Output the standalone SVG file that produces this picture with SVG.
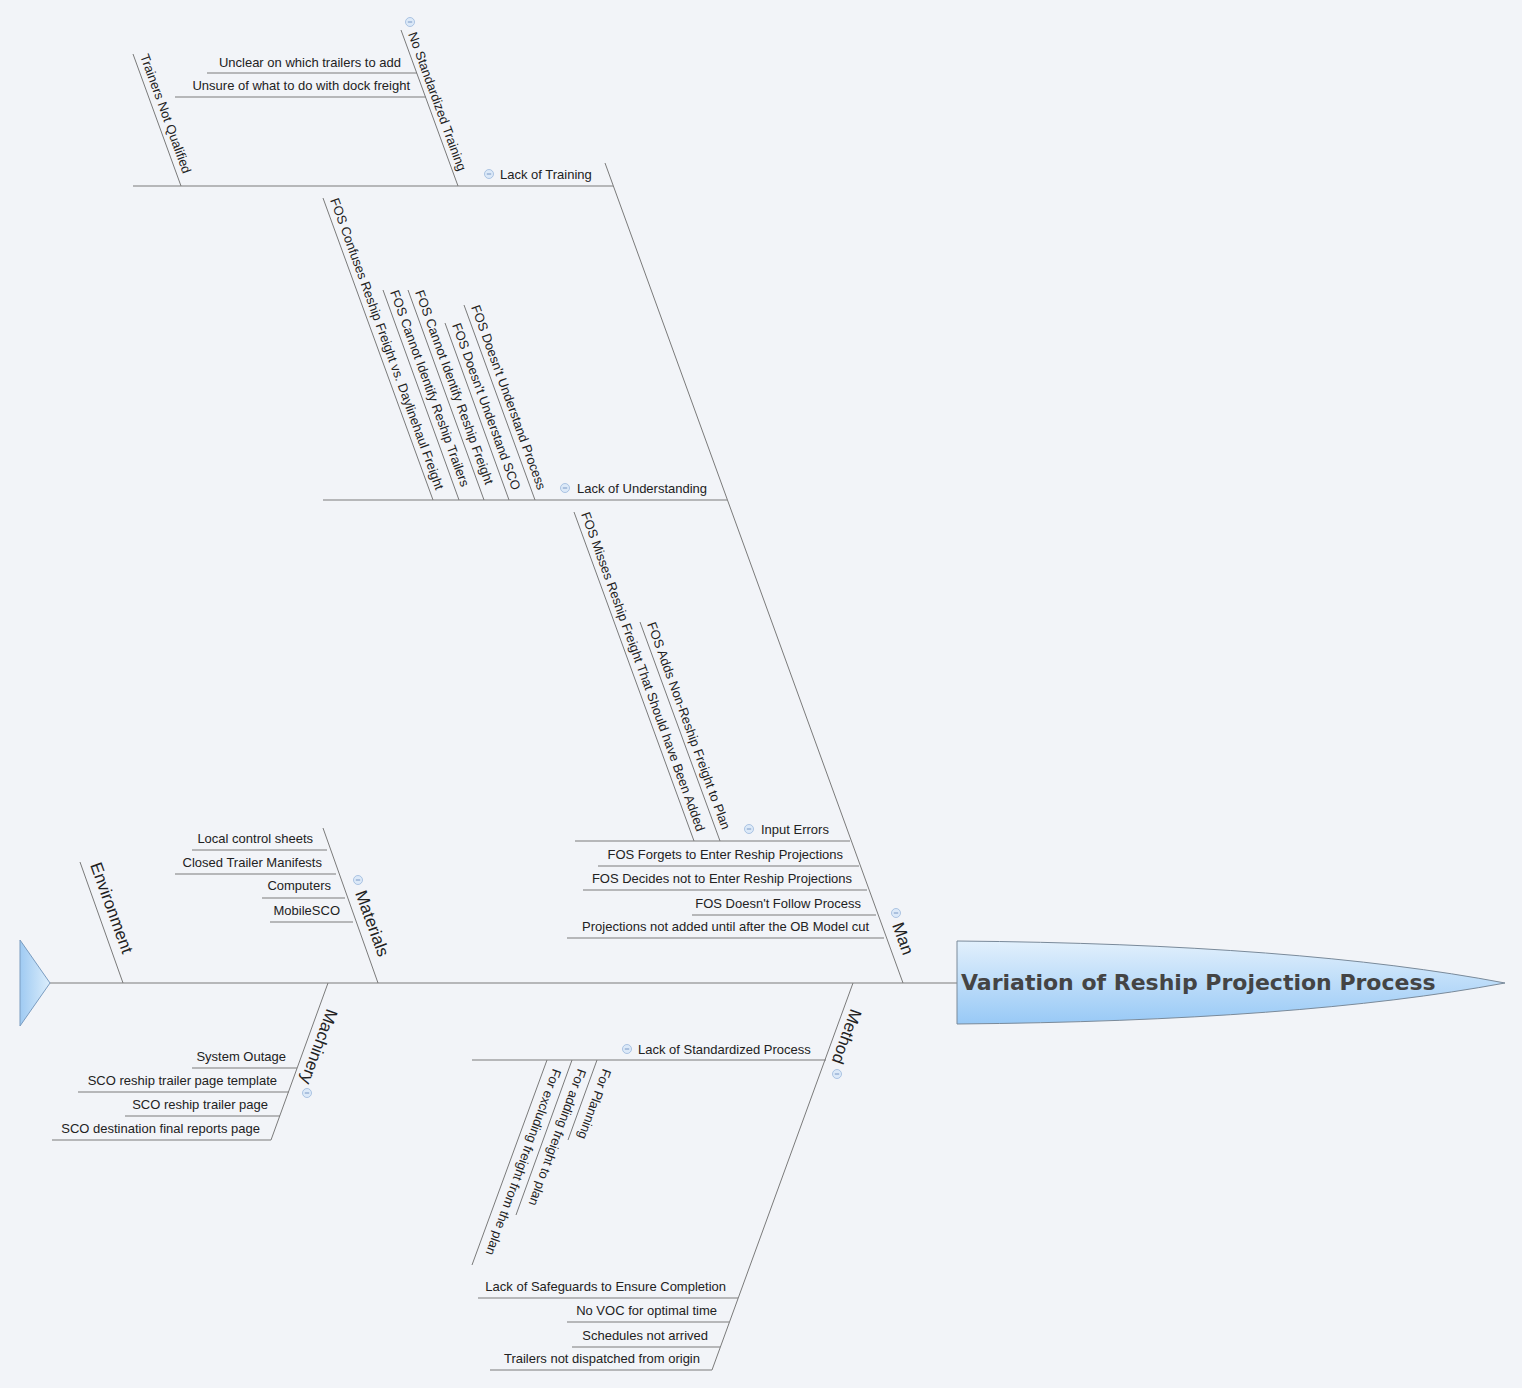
<svg xmlns="http://www.w3.org/2000/svg" width="1522" height="1388" viewBox="0 0 1522 1388">
<defs>
<linearGradient id="hg" x1="0" y1="0" x2="0" y2="1"><stop offset="0" stop-color="#e2f0fc"/><stop offset="1" stop-color="#98c9f6"/></linearGradient>
<linearGradient id="tg" x1="0" y1="0" x2="1" y2="0"><stop offset="0" stop-color="#9fcaf2"/><stop offset="1" stop-color="#dceefc"/></linearGradient>
<g id="cc"><circle r="4.5" fill="#dce9f8" stroke="#9ab8dc" stroke-width="0.8"/><line x1="-2.2" y1="0" x2="2.2" y2="0" stroke="#6d8fbf" stroke-width="0.9"/></g>
</defs>
<style>
text{font-family:"Liberation Sans",Arial,sans-serif;fill:#222;font-size:13px}
.big{font-size:17px}
.e{text-anchor:end}
.l{stroke:#7a7a7a;stroke-width:1;fill:none}
</style>
<rect width="1522" height="1388" fill="#f2f4f8"/>
<g id="connectors" class="l">
<line x1="50" y1="983" x2="957" y2="983"/>
<line x1="903" y1="983" x2="605" y2="163"/>
<line x1="133" y1="186" x2="613" y2="186"/>
<line x1="458" y1="186" x2="401" y2="30"/>
<line x1="181" y1="186" x2="133" y2="54"/>
<line x1="207" y1="73" x2="417" y2="73"/>
<line x1="175" y1="97" x2="426" y2="97"/>
<line x1="323" y1="500" x2="727" y2="500"/>
<line x1="433" y1="500" x2="323" y2="198"/>
<line x1="459" y1="500" x2="383" y2="290"/>
<line x1="484" y1="500" x2="408" y2="290"/>
<line x1="509" y1="500" x2="445" y2="323"/>
<line x1="535" y1="500" x2="464" y2="305"/>
<line x1="575" y1="841" x2="850" y2="841"/>
<line x1="694" y1="841" x2="574" y2="512"/>
<line x1="720" y1="841" x2="640" y2="622"/>
<line x1="598" y1="866" x2="859" y2="866"/>
<line x1="583" y1="890" x2="867" y2="890"/>
<line x1="692" y1="915" x2="876" y2="915"/>
<line x1="567" y1="938" x2="884" y2="938"/>
<line x1="853" y1="983" x2="712" y2="1370"/>
<line x1="472" y1="1060" x2="826" y2="1060"/>
<line x1="597" y1="1060" x2="568" y2="1140"/>
<line x1="572" y1="1060" x2="516" y2="1215"/>
<line x1="547" y1="1060" x2="472" y2="1265"/>
<line x1="478" y1="1298" x2="738" y2="1298"/>
<line x1="567" y1="1322" x2="729" y2="1322"/>
<line x1="572" y1="1347" x2="720" y2="1347"/>
<line x1="490" y1="1370" x2="712" y2="1370"/>
<line x1="378" y1="983" x2="323" y2="828"/>
<line x1="192" y1="850" x2="327" y2="850"/>
<line x1="175" y1="874" x2="336" y2="874"/>
<line x1="262" y1="898" x2="345" y2="898"/>
<line x1="270" y1="922" x2="353" y2="922"/>
<line x1="123" y1="983" x2="80" y2="862"/>
<line x1="328" y1="983" x2="271" y2="1140"/>
<line x1="192" y1="1068" x2="297" y2="1068"/>
<line x1="78" y1="1092" x2="289" y2="1092"/>
<line x1="125" y1="1116" x2="280" y2="1116"/>
<line x1="52" y1="1140" x2="271" y2="1140"/>
</g>
<g id="tail"><path d="M20,940 L50,983 L20,1026 Z" fill="url(#tg)" stroke="#7a9cc0"/></g>
<g id="head"><path d="M957,941 Q1300,944 1505,983 Q1300,1021 957,1024 Z" fill="url(#hg)" stroke="#7a8a9a"/>
<text x="961" y="990" style="font-family:'DejaVu Sans',Verdana,sans-serif;font-size:22px;font-weight:bold;fill:#444">Variation of Reship Projection Process</text></g>
<g id="man"><text class="big" transform="translate(892,925) rotate(70)">Man</text><use href="#cc" x="896" y="913"/></g>
<g id="lack-training"><text x="500" y="179">Lack of Training</text><use href="#cc" x="489" y="174"/></g>
<g id="no-std-training"><text transform="translate(408,34) rotate(70)">No Standardized Training</text><use href="#cc" x="410" y="22"/></g>
<g id="trainers"><text transform="translate(140,56) rotate(70)">Trainers Not Qualified</text></g>
<g id="unclear"><text class="e" x="401" y="67">Unclear on which trailers to add</text></g>
<g id="unsure"><text class="e" x="410" y="90">Unsure of what to do with dock freight</text></g>
<g id="lack-understanding"><text x="577" y="493">Lack of Understanding</text><use href="#cc" x="565" y="488"/></g>
<g id="u1"><text transform="translate(330,200) rotate(70)">FOS Confuses Reship Freight vs. Daylinehaul Freight</text></g>
<g id="u2"><text transform="translate(390,292) rotate(70)">FOS Cannot Identify Reship Trailers</text></g>
<g id="u3"><text transform="translate(415,292) rotate(70)">FOS Cannot Identify Reship Freight</text></g>
<g id="u4"><text transform="translate(452,325) rotate(70)">FOS Doesn't Understand SCO</text></g>
<g id="u5"><text transform="translate(471,307) rotate(70)">FOS Doesn't Understand Process</text></g>
<g id="input-errors"><text x="761" y="834">Input Errors</text><use href="#cc" x="749" y="829"/></g>
<g id="i1"><text transform="translate(581,514) rotate(70)">FOS Misses Reship Freight That Should have Been Added</text></g>
<g id="i2"><text transform="translate(647,624) rotate(70)">FOS Adds Non-Reship Freight to Plan</text></g>
<g id="m1"><text class="e" x="843" y="859">FOS Forgets to Enter Reship Projections</text></g>
<g id="m2"><text class="e" x="852" y="883">FOS Decides not to Enter Reship Projections</text></g>
<g id="m3"><text class="e" x="861" y="908">FOS Doesn't Follow Process</text></g>
<g id="m4"><text class="e" x="869" y="931">Projections not added until after the OB Model cut</text></g>
<g id="method"><text class="big" transform="translate(851,1008) rotate(110)">Method</text><use href="#cc" x="837" y="1074"/></g>
<g id="lack-std-process"><text x="638" y="1054">Lack of Standardized Process</text><use href="#cc" x="627" y="1049"/></g>
<g id="p1"><text transform="translate(603,1068) rotate(110)">For Planning</text></g>
<g id="p2"><text transform="translate(578,1068) rotate(110)">For adding freight to plan</text></g>
<g id="p3"><text transform="translate(553,1068) rotate(110)">For excluding freight from the plan</text></g>
<g id="s1"><text class="e" x="726" y="1291">Lack of Safeguards to Ensure Completion</text></g>
<g id="s2"><text class="e" x="717" y="1315">No VOC for optimal time</text></g>
<g id="s3"><text class="e" x="708" y="1340">Schedules not arrived</text></g>
<g id="s4"><text class="e" x="700" y="1363">Trailers not dispatched from origin</text></g>
<g id="materials"><text class="big" transform="translate(355,893) rotate(70)">Materials</text><use href="#cc" x="358" y="880"/></g>
<g id="mat1"><text class="e" x="313" y="843">Local control sheets</text></g>
<g id="mat2"><text class="e" x="322" y="867">Closed Trailer Manifests</text></g>
<g id="mat3"><text class="e" x="331" y="890">Computers</text></g>
<g id="mat4"><text class="e" x="340" y="915">MobileSCO</text></g>
<g id="environment"><text class="big" transform="translate(90,865) rotate(70)">Environment</text></g>
<g id="machinery"><text class="big" transform="translate(327,1008) rotate(110)">Machinery</text><use href="#cc" x="307" y="1093"/></g>
<g id="mc1"><text class="e" x="286" y="1061">System Outage</text></g>
<g id="mc2"><text class="e" x="277" y="1085">SCO reship trailer page template</text></g>
<g id="mc3"><text class="e" x="268" y="1109">SCO reship trailer page</text></g>
<g id="mc4"><text class="e" x="260" y="1133">SCO destination final reports page</text></g>
</svg>
